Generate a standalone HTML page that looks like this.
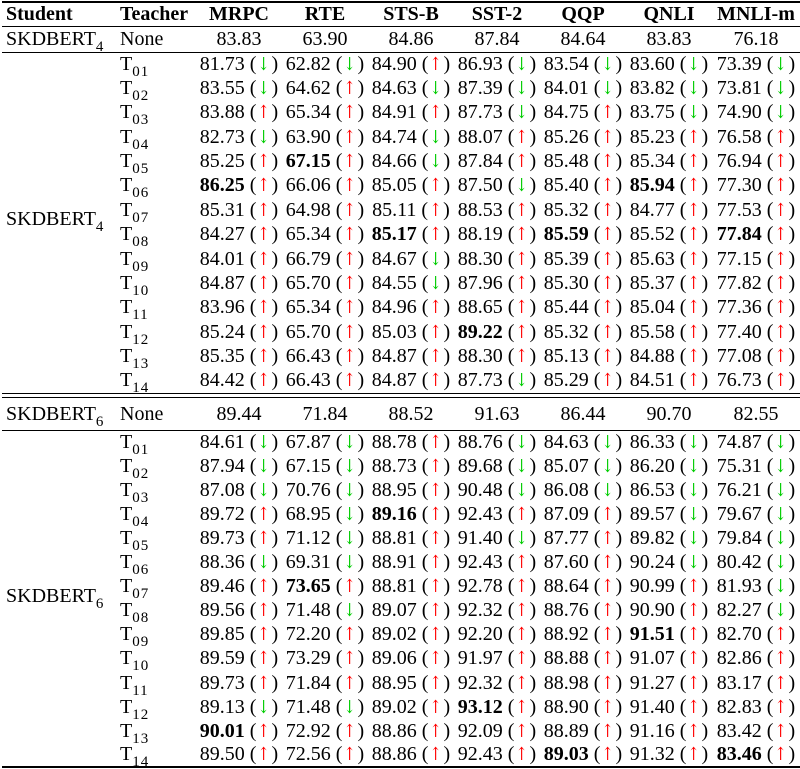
<!DOCTYPE html>
<html><head><meta charset="utf-8"><style>
body{margin:0;background:#fff}
#w{position:relative;width:800px;height:769px;overflow:hidden;font-family:"Liberation Serif","DejaVu Serif",serif;font-size:20px;color:#000}
.r{position:absolute;left:0;width:800px;display:flex;align-items:center;white-space:nowrap}
.r>span{display:block;text-align:center}
.r>span:nth-child(1){width:118px;text-align:left;padding-left:6px;box-sizing:border-box}
.r>span:nth-child(2){width:78px;text-align:left;padding-left:2px;box-sizing:border-box}
.r>span:nth-child(n+3){width:86px}
.r>span:nth-child(9){width:88px}
.h{font-weight:bold}
sub{font-size:15px;vertical-align:-6px;line-height:0;letter-spacing:1px}
.u,.d{font-family:"DejaVu Serif",serif;font-size:18px;font-style:normal;display:inline-block;transform:scaleX(0.8)}
.u{color:#f00}
.d{color:#0c0}
.l{position:absolute;left:2px;width:798px;height:1px;background:#000}
.lab{position:absolute;left:6px}
</style></head><body><div id="w">
<div class="l" style="top:1px;height:2px"></div>
<div class="l" style="top:26px"></div>
<div class="l" style="top:52px"></div>
<div class="l" style="top:393px"></div>
<div class="l" style="top:397px"></div>
<div class="l" style="top:430px"></div>
<div class="l" style="top:766px;height:2px"></div>

<div class="r h" style="top:2px;height:24px"><span>Student</span><span>Teacher</span><span>MRPC</span><span>RTE</span><span>STS-B</span><span>SST-2</span><span>QQP</span><span>QNLI</span><span>MNLI-m</span></div>
<div class="r" style="top:27px;height:25px"><span>SKDBERT<sub>4</sub></span><span>None</span><span>83.83</span><span>63.90</span><span>84.86</span><span>87.84</span><span>84.64</span><span>83.83</span><span>76.18</span></div>

<div class="lab" style="top:208px">SKDBERT<sub>4</sub></div>

<div class="r" style="top:52px;height:24.36px"><span></span><span>T<sub>01</sub></span><span>81.73 (<i class="d">↓</i>)</span><span>62.82 (<i class="d">↓</i>)</span><span>84.90 (<i class="u">↑</i>)</span><span>86.93 (<i class="d">↓</i>)</span><span>83.54 (<i class="d">↓</i>)</span><span>83.60 (<i class="d">↓</i>)</span><span>73.39 (<i class="d">↓</i>)</span></div>
<div class="r" style="top:76.36px;height:24.36px"><span></span><span>T<sub>02</sub></span><span>83.55 (<i class="d">↓</i>)</span><span>64.62 (<i class="u">↑</i>)</span><span>84.63 (<i class="d">↓</i>)</span><span>87.39 (<i class="d">↓</i>)</span><span>84.01 (<i class="d">↓</i>)</span><span>83.82 (<i class="d">↓</i>)</span><span>73.81 (<i class="d">↓</i>)</span></div>
<div class="r" style="top:100.72px;height:24.36px"><span></span><span>T<sub>03</sub></span><span>83.88 (<i class="u">↑</i>)</span><span>65.34 (<i class="u">↑</i>)</span><span>84.91 (<i class="u">↑</i>)</span><span>87.73 (<i class="d">↓</i>)</span><span>84.75 (<i class="u">↑</i>)</span><span>83.75 (<i class="d">↓</i>)</span><span>74.90 (<i class="d">↓</i>)</span></div>
<div class="r" style="top:125.08px;height:24.36px"><span></span><span>T<sub>04</sub></span><span>82.73 (<i class="d">↓</i>)</span><span>63.90 (<i class="u">↑</i>)</span><span>84.74 (<i class="d">↓</i>)</span><span>88.07 (<i class="u">↑</i>)</span><span>85.26 (<i class="u">↑</i>)</span><span>85.23 (<i class="u">↑</i>)</span><span>76.58 (<i class="u">↑</i>)</span></div>
<div class="r" style="top:149.44px;height:24.36px"><span></span><span>T<sub>05</sub></span><span>85.25 (<i class="u">↑</i>)</span><span><b>67.15</b> (<i class="u">↑</i>)</span><span>84.66 (<i class="d">↓</i>)</span><span>87.84 (<i class="u">↑</i>)</span><span>85.48 (<i class="u">↑</i>)</span><span>85.34 (<i class="u">↑</i>)</span><span>76.94 (<i class="u">↑</i>)</span></div>
<div class="r" style="top:173.8px;height:24.36px"><span></span><span>T<sub>06</sub></span><span><b>86.25</b> (<i class="u">↑</i>)</span><span>66.06 (<i class="u">↑</i>)</span><span>85.05 (<i class="u">↑</i>)</span><span>87.50 (<i class="d">↓</i>)</span><span>85.40 (<i class="u">↑</i>)</span><span><b>85.94</b> (<i class="u">↑</i>)</span><span>77.30 (<i class="u">↑</i>)</span></div>
<div class="r" style="top:198.16px;height:24.36px"><span></span><span>T<sub>07</sub></span><span>85.31 (<i class="u">↑</i>)</span><span>64.98 (<i class="u">↑</i>)</span><span>85.11 (<i class="u">↑</i>)</span><span>88.53 (<i class="u">↑</i>)</span><span>85.32 (<i class="u">↑</i>)</span><span>84.77 (<i class="u">↑</i>)</span><span>77.53 (<i class="u">↑</i>)</span></div>
<div class="r" style="top:222.52px;height:24.36px"><span></span><span>T<sub>08</sub></span><span>84.27 (<i class="u">↑</i>)</span><span>65.34 (<i class="u">↑</i>)</span><span><b>85.17</b> (<i class="u">↑</i>)</span><span>88.19 (<i class="u">↑</i>)</span><span><b>85.59</b> (<i class="u">↑</i>)</span><span>85.52 (<i class="u">↑</i>)</span><span><b>77.84</b> (<i class="u">↑</i>)</span></div>
<div class="r" style="top:246.88px;height:24.36px"><span></span><span>T<sub>09</sub></span><span>84.01 (<i class="u">↑</i>)</span><span>66.79 (<i class="u">↑</i>)</span><span>84.67 (<i class="d">↓</i>)</span><span>88.30 (<i class="u">↑</i>)</span><span>85.39 (<i class="u">↑</i>)</span><span>85.63 (<i class="u">↑</i>)</span><span>77.15 (<i class="u">↑</i>)</span></div>
<div class="r" style="top:271.24px;height:24.36px"><span></span><span>T<sub>10</sub></span><span>84.87 (<i class="u">↑</i>)</span><span>65.70 (<i class="u">↑</i>)</span><span>84.55 (<i class="d">↓</i>)</span><span>87.96 (<i class="u">↑</i>)</span><span>85.30 (<i class="u">↑</i>)</span><span>85.37 (<i class="u">↑</i>)</span><span>77.82 (<i class="u">↑</i>)</span></div>
<div class="r" style="top:295.6px;height:24.36px"><span></span><span>T<sub>11</sub></span><span>83.96 (<i class="u">↑</i>)</span><span>65.34 (<i class="u">↑</i>)</span><span>84.96 (<i class="u">↑</i>)</span><span>88.65 (<i class="u">↑</i>)</span><span>85.44 (<i class="u">↑</i>)</span><span>85.04 (<i class="u">↑</i>)</span><span>77.36 (<i class="u">↑</i>)</span></div>
<div class="r" style="top:319.96px;height:24.36px"><span></span><span>T<sub>12</sub></span><span>85.24 (<i class="u">↑</i>)</span><span>65.70 (<i class="u">↑</i>)</span><span>85.03 (<i class="u">↑</i>)</span><span><b>89.22</b> (<i class="u">↑</i>)</span><span>85.32 (<i class="u">↑</i>)</span><span>85.58 (<i class="u">↑</i>)</span><span>77.40 (<i class="u">↑</i>)</span></div>
<div class="r" style="top:344.32px;height:24.36px"><span></span><span>T<sub>13</sub></span><span>85.35 (<i class="u">↑</i>)</span><span>66.43 (<i class="u">↑</i>)</span><span>84.87 (<i class="u">↑</i>)</span><span>88.30 (<i class="u">↑</i>)</span><span>85.13 (<i class="u">↑</i>)</span><span>84.88 (<i class="u">↑</i>)</span><span>77.08 (<i class="u">↑</i>)</span></div>
<div class="r" style="top:368.68px;height:24.36px"><span></span><span>T<sub>14</sub></span><span>84.42 (<i class="u">↑</i>)</span><span>66.43 (<i class="u">↑</i>)</span><span>84.87 (<i class="u">↑</i>)</span><span>87.73 (<i class="d">↓</i>)</span><span>85.29 (<i class="u">↑</i>)</span><span>84.51 (<i class="u">↑</i>)</span><span>76.73 (<i class="u">↑</i>)</span></div>

<div class="r" style="top:398px;height:32px"><span>SKDBERT<sub>6</sub></span><span>None</span><span>89.44</span><span>71.84</span><span>88.52</span><span>91.63</span><span>86.44</span><span>90.70</span><span>82.55</span></div>

<div class="lab" style="top:585px">SKDBERT<sub>6</sub></div>

<div class="r" style="top:430px;height:24.1px"><span></span><span>T<sub>01</sub></span><span>84.61 (<i class="d">↓</i>)</span><span>67.87 (<i class="d">↓</i>)</span><span>88.78 (<i class="u">↑</i>)</span><span>88.76 (<i class="d">↓</i>)</span><span>84.63 (<i class="d">↓</i>)</span><span>86.33 (<i class="d">↓</i>)</span><span>74.87 (<i class="d">↓</i>)</span></div>
<div class="r" style="top:454.1px;height:24.1px"><span></span><span>T<sub>02</sub></span><span>87.94 (<i class="d">↓</i>)</span><span>67.15 (<i class="d">↓</i>)</span><span>88.73 (<i class="u">↑</i>)</span><span>89.68 (<i class="d">↓</i>)</span><span>85.07 (<i class="d">↓</i>)</span><span>86.20 (<i class="d">↓</i>)</span><span>75.31 (<i class="d">↓</i>)</span></div>
<div class="r" style="top:478.2px;height:24.1px"><span></span><span>T<sub>03</sub></span><span>87.08 (<i class="d">↓</i>)</span><span>70.76 (<i class="d">↓</i>)</span><span>88.95 (<i class="u">↑</i>)</span><span>90.48 (<i class="d">↓</i>)</span><span>86.08 (<i class="d">↓</i>)</span><span>86.53 (<i class="d">↓</i>)</span><span>76.21 (<i class="d">↓</i>)</span></div>
<div class="r" style="top:502.3px;height:24.1px"><span></span><span>T<sub>04</sub></span><span>89.72 (<i class="u">↑</i>)</span><span>68.95 (<i class="d">↓</i>)</span><span><b>89.16</b> (<i class="u">↑</i>)</span><span>92.43 (<i class="u">↑</i>)</span><span>87.09 (<i class="u">↑</i>)</span><span>89.57 (<i class="d">↓</i>)</span><span>79.67 (<i class="d">↓</i>)</span></div>
<div class="r" style="top:526.4px;height:24.1px"><span></span><span>T<sub>05</sub></span><span>89.73 (<i class="u">↑</i>)</span><span>71.12 (<i class="d">↓</i>)</span><span>88.81 (<i class="u">↑</i>)</span><span>91.40 (<i class="d">↓</i>)</span><span>87.77 (<i class="u">↑</i>)</span><span>89.82 (<i class="d">↓</i>)</span><span>79.84 (<i class="d">↓</i>)</span></div>
<div class="r" style="top:550.5px;height:24.1px"><span></span><span>T<sub>06</sub></span><span>88.36 (<i class="d">↓</i>)</span><span>69.31 (<i class="d">↓</i>)</span><span>88.91 (<i class="u">↑</i>)</span><span>92.43 (<i class="u">↑</i>)</span><span>87.60 (<i class="u">↑</i>)</span><span>90.24 (<i class="d">↓</i>)</span><span>80.42 (<i class="d">↓</i>)</span></div>
<div class="r" style="top:574.6px;height:24.1px"><span></span><span>T<sub>07</sub></span><span>89.46 (<i class="u">↑</i>)</span><span><b>73.65</b> (<i class="u">↑</i>)</span><span>88.81 (<i class="u">↑</i>)</span><span>92.78 (<i class="u">↑</i>)</span><span>88.64 (<i class="u">↑</i>)</span><span>90.99 (<i class="u">↑</i>)</span><span>81.93 (<i class="d">↓</i>)</span></div>
<div class="r" style="top:598.7px;height:24.1px"><span></span><span>T<sub>08</sub></span><span>89.56 (<i class="u">↑</i>)</span><span>71.48 (<i class="d">↓</i>)</span><span>89.07 (<i class="u">↑</i>)</span><span>92.32 (<i class="u">↑</i>)</span><span>88.76 (<i class="u">↑</i>)</span><span>90.90 (<i class="u">↑</i>)</span><span>82.27 (<i class="d">↓</i>)</span></div>
<div class="r" style="top:622.8px;height:24.1px"><span></span><span>T<sub>09</sub></span><span>89.85 (<i class="u">↑</i>)</span><span>72.20 (<i class="u">↑</i>)</span><span>89.02 (<i class="u">↑</i>)</span><span>92.20 (<i class="u">↑</i>)</span><span>88.92 (<i class="u">↑</i>)</span><span><b>91.51</b> (<i class="u">↑</i>)</span><span>82.70 (<i class="u">↑</i>)</span></div>
<div class="r" style="top:646.9px;height:24.1px"><span></span><span>T<sub>10</sub></span><span>89.59 (<i class="u">↑</i>)</span><span>73.29 (<i class="u">↑</i>)</span><span>89.06 (<i class="u">↑</i>)</span><span>91.97 (<i class="u">↑</i>)</span><span>88.88 (<i class="u">↑</i>)</span><span>91.07 (<i class="u">↑</i>)</span><span>82.86 (<i class="u">↑</i>)</span></div>
<div class="r" style="top:671px;height:24.1px"><span></span><span>T<sub>11</sub></span><span>89.73 (<i class="u">↑</i>)</span><span>71.84 (<i class="u">↑</i>)</span><span>88.95 (<i class="u">↑</i>)</span><span>92.32 (<i class="u">↑</i>)</span><span>88.98 (<i class="u">↑</i>)</span><span>91.27 (<i class="u">↑</i>)</span><span>83.17 (<i class="u">↑</i>)</span></div>
<div class="r" style="top:695.1px;height:24.1px"><span></span><span>T<sub>12</sub></span><span>89.13 (<i class="d">↓</i>)</span><span>71.48 (<i class="d">↓</i>)</span><span>89.02 (<i class="u">↑</i>)</span><span><b>93.12</b> (<i class="u">↑</i>)</span><span>88.90 (<i class="u">↑</i>)</span><span>91.40 (<i class="u">↑</i>)</span><span>82.83 (<i class="u">↑</i>)</span></div>
<div class="r" style="top:719.2px;height:24.1px"><span></span><span>T<sub>13</sub></span><span><b>90.01</b> (<i class="u">↑</i>)</span><span>72.92 (<i class="u">↑</i>)</span><span>88.86 (<i class="u">↑</i>)</span><span>92.09 (<i class="u">↑</i>)</span><span>88.89 (<i class="u">↑</i>)</span><span>91.16 (<i class="u">↑</i>)</span><span>83.42 (<i class="u">↑</i>)</span></div>
<div class="r" style="top:743.3px;height:23px"><span></span><span>T<sub>14</sub></span><span>89.50 (<i class="u">↑</i>)</span><span>72.56 (<i class="u">↑</i>)</span><span>88.86 (<i class="u">↑</i>)</span><span>92.43 (<i class="u">↑</i>)</span><span><b>89.03</b> (<i class="u">↑</i>)</span><span>91.32 (<i class="u">↑</i>)</span><span><b>83.46</b> (<i class="u">↑</i>)</span></div>
</div></body></html>
